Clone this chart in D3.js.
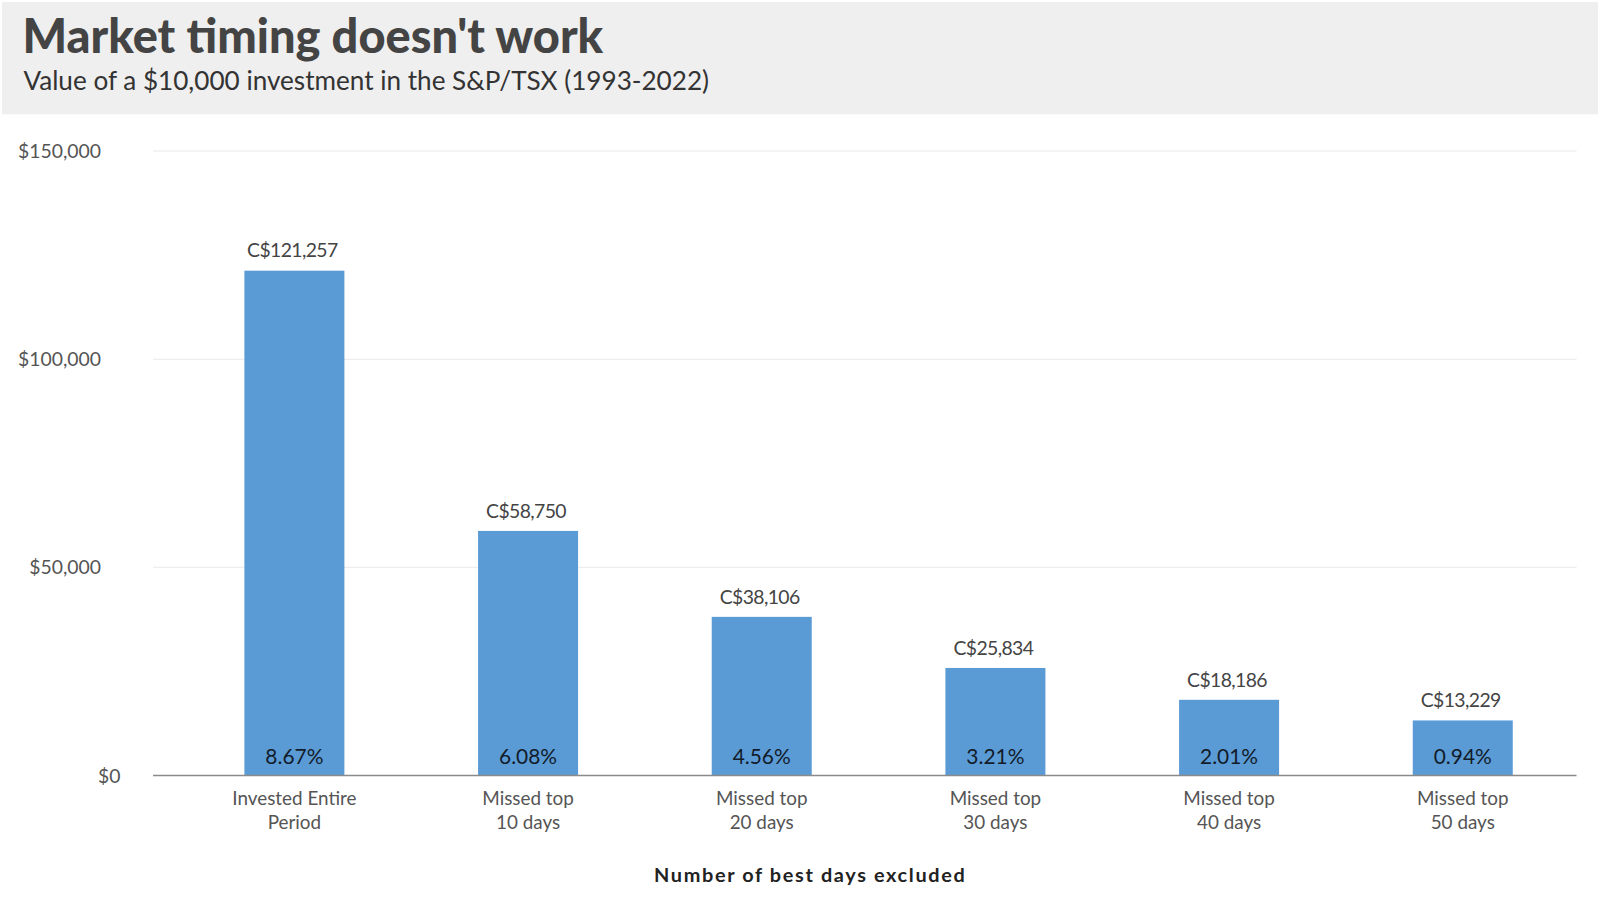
<!DOCTYPE html>
<html>
<head>
<meta charset="utf-8">
<script src="https://cdn.jsdelivr.net/npm/d3@7"></script>
<style>
  body { margin: 0; background: #fff; }
  svg { display: block; font-family: Lato, "Open Sans", sans-serif; }
</style>
</head>
<body>
<svg width="1600" height="897"></svg>
<script>
// chart data
const categories = ["Invested Entire|Period", "Missed top|10 days", "Missed top|20 days", "Missed top|30 days", "Missed top|40 days", "Missed top|50 days"]
const values = [121257, 58750, 38106, 25834, 18186, 13229]
const returns = ["8.67%", "6.08%", "4.56%", "3.21%", "2.01%", "0.94%"]
const yTicks = [0, 50000, 100000, 150000]

const svg = d3.select("svg")
// layout was measured on a 1568px wide copy, so scale it up to 1600
const g = svg.append("g").attr("transform", "scale(" + (1600 / 1568) + ")")
const data = categories.map((c, i) => ({cat: c, value: values[i], ret: returns[i]}))

// header band
g.append("rect").attr("x", 2).attr("y", 2).attr("width", 1564).attr("height", 110).attr("fill", "#efefef")
g.append("text").attr("x", 22).attr("y", 52)
  .attr("font-size", 46).attr("font-weight", 900).attr("fill", "#444")
  .text("Market timing doesn't work")
g.append("text").attr("x", 23).attr("y", 88)
  .attr("font-size", 25.6).attr("fill", "#333")
  .text("Value of a $10,000 investment in the S&P/TSX (1993-2022)")

const plotLeft = 150, plotRight = 1545, plotTop = 148, plotBottom = 760

const xScale = d3.scaleBand().domain(categories).range([174, 1548])
  .paddingInner(0.572).paddingOuter(0.286)
const yScale = d3.scaleLinear().domain([0, 150000]).range([plotBottom, plotTop])
const mid = d => xScale(d.cat) + xScale.bandwidth() / 2

// gridlines
g.append("g").selectAll("line")
  .data(yTicks.filter(d => d > 0))
  .join("line")
  .attr("x1", plotLeft).attr("x2", plotRight)
  .attr("y1", d => yScale(d)).attr("y2", d => yScale(d))
  .attr("stroke", "#e9e9e9").attr("stroke-width", 1)

// y labels
g.append("g").selectAll("text")
  .data(yTicks)
  .join("text")
  .attr("x", d => d === 0 ? 118 : 99)
  .attr("y", d => yScale(d) + 7)
  .attr("text-anchor", "end")
  .attr("font-size", 19).attr("fill", "#555")
  .text(d => "$" + d3.format(",")(d))

// bars
g.append("g").selectAll("rect")
  .data(data)
  .join("rect")
  .attr("x", d => xScale(d.cat))
  .attr("y", d => yScale(d.value))
  .attr("width", xScale.bandwidth())
  .attr("height", d => plotBottom - yScale(d.value))
  .attr("fill", "#5b9bd5")

// baseline
g.append("line").attr("x1", plotLeft).attr("x2", plotRight)
  .attr("y1", plotBottom).attr("y2", plotBottom)
  .attr("stroke", "#8a8a8a").attr("stroke-width", 1.5)

// value labels
g.append("g").selectAll("text")
  .data(data)
  .join("text")
  .attr("x", d => mid(d) - 2)
  .attr("y", d => yScale(d.value) - 13)
  .attr("text-anchor", "middle")
  .attr("font-size", 19).attr("letter-spacing", -0.6).attr("fill", "#444")
  .text(d => "C$" + d3.format(",")(d.value))

// return labels inside bars
g.append("g").selectAll("text")
  .data(data)
  .join("text")
  .attr("x", d => mid(d))
  .attr("y", plotBottom - 11)
  .attr("text-anchor", "middle")
  .attr("font-size", 20.5).attr("fill", "#121c2a")
  .text(d => d.ret)

// category labels
const cl = g.append("g").selectAll("text")
  .data(data)
  .join("text")
  .attr("text-anchor", "middle")
  .attr("font-size", 18.5).attr("fill", "#555")
cl.selectAll("tspan")
  .data(d => d.cat.split("|").map(t => ({t: t, x: mid(d)})))
  .join("tspan")
  .attr("x", d => d.x)
  .attr("y", (d, i) => 789 + i * 23)
  .text(d => d.t)

g.append("text").attr("x", 794).attr("y", 864)
  .attr("text-anchor", "middle")
  .attr("font-size", 19.5).attr("font-weight", "bold").attr("fill", "#222")
  .attr("letter-spacing", 1.6)
  .text("Number of best days excluded")
</script>
</body>
</html>
